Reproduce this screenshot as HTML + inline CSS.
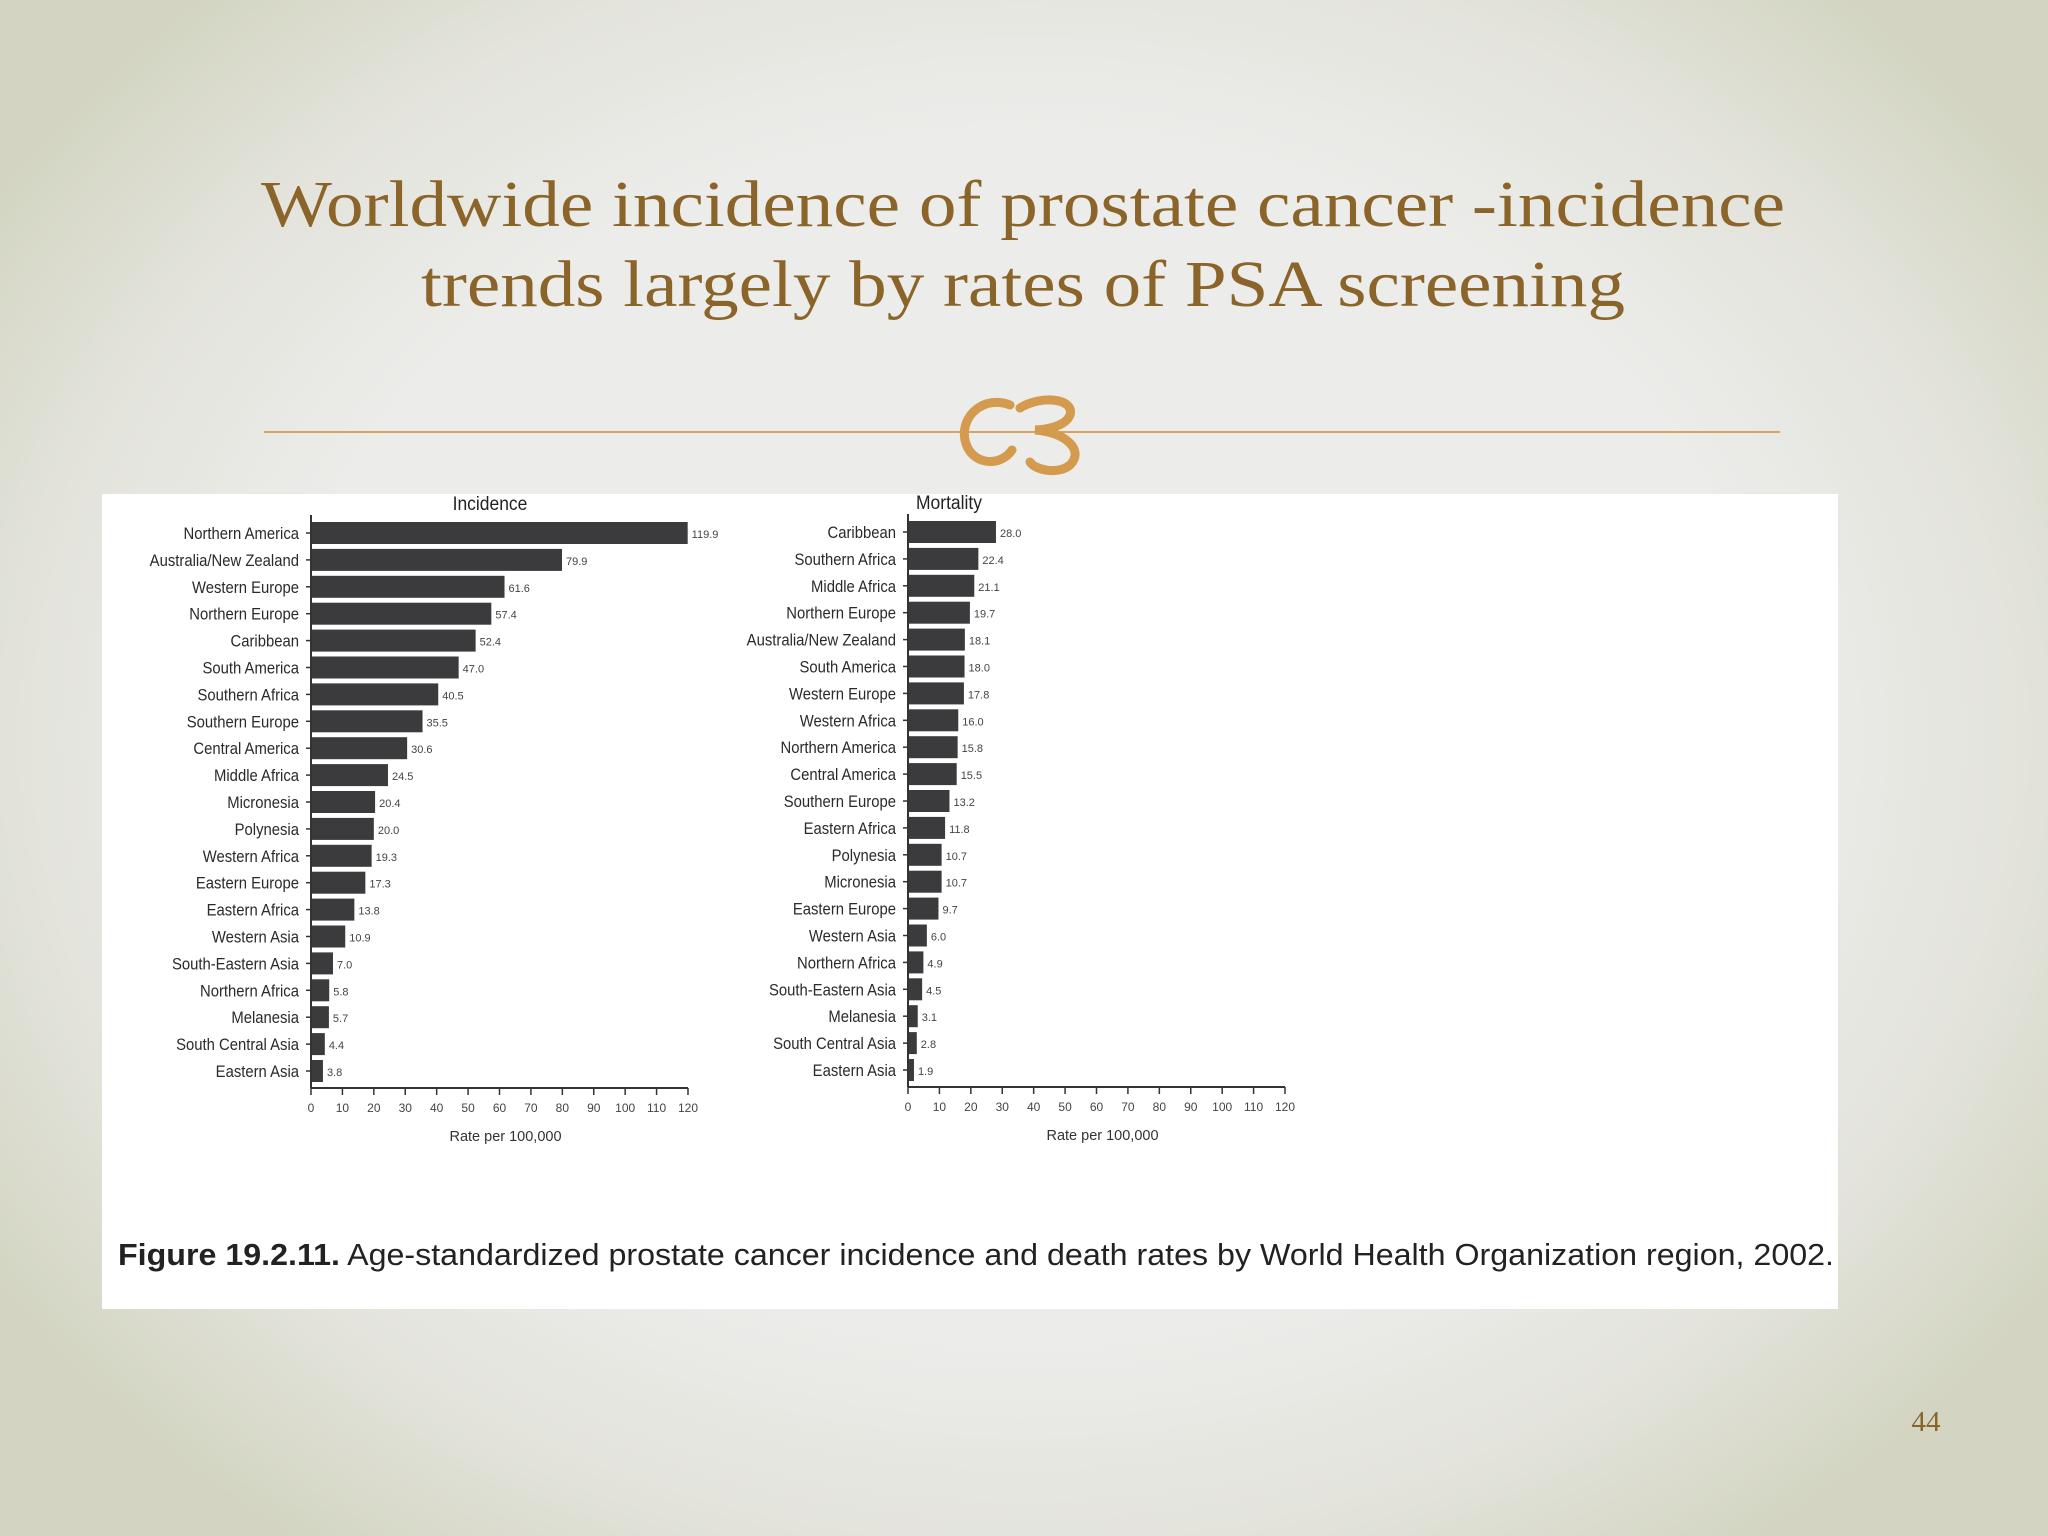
<!DOCTYPE html>
<html><head><meta charset="utf-8"><style>
html,body{margin:0;padding:0;width:2048px;height:1536px;overflow:hidden}
body{background:radial-gradient(ellipse 60% 65% at 50% 48%,#ececea 60%,#e4e4dd 80%,#d3d5c2 100%)}
svg{position:absolute;left:0;top:0}
</style></head><body>
<svg id="s" width="2048" height="1536" viewBox="0 0 2048 1536">
<text x="1023" y="226" text-anchor="middle" font-family="Liberation Serif, serif" font-size="66" fill="#8a6428" textLength="1524" lengthAdjust="spacingAndGlyphs">Worldwide incidence of prostate cancer -incidence</text>
<text x="1023" y="306" text-anchor="middle" font-family="Liberation Serif, serif" font-size="66" fill="#8a6428" textLength="1204" lengthAdjust="spacingAndGlyphs">trends largely by rates of PSA screening</text>
<line x1="264" y1="432" x2="1780" y2="432" stroke="#d9a55a" stroke-width="2"/>
<g fill="none" stroke="#d49a4e" stroke-width="9" stroke-linecap="round">
<path d="M1010 405 C985 395 960 415 965 440 C970 465 1000 468 1012 450"/>
<path d="M1020 408 C1040 395 1075 398 1070 415 C1065 428 1040 430 1035 430 C1065 432 1085 450 1070 465 C1058 475 1035 470 1030 462"/>
</g>
<rect x="102" y="494" width="1736" height="815" fill="#ffffff"/>
<text x="118" y="1265" font-family="Liberation Sans, sans-serif" font-size="31" fill="#222" textLength="1716" lengthAdjust="spacingAndGlyphs"><tspan font-weight="bold">Figure 19.2.11.</tspan> Age-standardized prostate cancer incidence and death rates by World Health Organization region, 2002.</text>
<text x="1926" y="1431" text-anchor="middle" font-family="Liberation Serif, serif" font-size="29" fill="#8a6428">44</text>
<g id="charts"></g>
</svg>
<script>
const incCategories=["Northern America","Australia/New Zealand","Western Europe","Northern Europe","Caribbean","South America","Southern Africa","Southern Europe","Central America","Middle Africa","Micronesia","Polynesia","Western Africa","Eastern Europe","Eastern Africa","Western Asia","South-Eastern Asia","Northern Africa","Melanesia","South Central Asia","Eastern Asia"];
const incValues=[119.9,79.9,61.6,57.4,52.4,47.0,40.5,35.5,30.6,24.5,20.4,20.0,19.3,17.3,13.8,10.9,7.0,5.8,5.7,4.4,3.8];
const morCategories=["Caribbean","Southern Africa","Middle Africa","Northern Europe","Australia/New Zealand","South America","Western Europe","Western Africa","Northern America","Central America","Southern Europe","Eastern Africa","Polynesia","Micronesia","Eastern Europe","Western Asia","Northern Africa","South-Eastern Asia","Melanesia","South Central Asia","Eastern Asia"];
const morValues=[28.0,22.4,21.1,19.7,18.1,18.0,17.8,16.0,15.8,15.5,13.2,11.8,10.7,10.7,9.7,6.0,4.9,4.5,3.1,2.8,1.9];
const xTicks=[0,10,20,30,40,50,60,70,80,90,100,110,120];
const NS="http://www.w3.org/2000/svg";
const root=document.getElementById('charts');
function el(tag,attrs,parent){const e=document.createElementNS(NS,tag);for(const k in attrs)e.setAttribute(k,attrs[k]);(parent||root).appendChild(e);return e;}
function drawChart(name,title,titleX,cats,vals,x0,x1,y0,pitch,axisY){
  const g=el('g',{});
  
  
  const xs=v=>x0+(x1-x0)*v/120;
  const ys=i=>y0+i*pitch;
  const t=el('text',{x:titleX,y:y0-23,'text-anchor':'middle','font-family':'Liberation Sans, sans-serif','font-size':19,fill:'#222',transform:'translate('+titleX+',0) scale(0.92,1) translate('+(-titleX)+',0)'},g);
  t.textContent=title;
  
  
  cats.forEach((c,i)=>{
    const y=ys(i);
    const r=el('rect',{x:xs(0),y:y-11,width:xs(vals[i])-xs(0),height:22,fill:'#3b3b3d'},g);
    
    
    const lx=x0-12;
    const lb=el('text',{x:lx,y:y+6,'text-anchor':'end','font-family':'Liberation Sans, sans-serif','font-size':16.5,fill:'#2a2a2a',transform:'translate('+lx+',0) scale(0.9,1) translate('+(-lx)+',0)'},g);
    lb.textContent=c;
    
    
    el('line',{x1:x0-5,y1:y,x2:x0,y2:y,stroke:'#333','stroke-width':1.5},g);
    const vl=el('text',{x:xs(vals[i])+4,y:y+5,'font-family':'Liberation Sans, sans-serif','font-size':11,fill:'#444'},g);
    vl.textContent=vals[i].toFixed(1);
    
    
  });
  el('line',{x1:x0,y1:y0-18,x2:x0,y2:axisY,stroke:'#333','stroke-width':2},g);
  el('line',{x1:x0,y1:axisY,x2:x1,y2:axisY,stroke:'#333','stroke-width':2},g);
  xTicks.forEach(v=>{
    el('line',{x1:xs(v),y1:axisY,x2:xs(v),y2:axisY+7,stroke:'#333','stroke-width':1.5},g);
    const tl=el('text',{x:xs(v),y:axisY+24,'text-anchor':'middle','font-family':'Liberation Sans, sans-serif','font-size':12,fill:'#444'},g);
    tl.textContent=v;
    
    
  });
  const xl=el('text',{x:(x0+x1)/2+6,y:axisY+53,'text-anchor':'middle','font-family':'Liberation Sans, sans-serif','font-size':14.5,fill:'#333'},g);
  xl.textContent='Rate per 100,000';
  
  
}
drawChart('incidence','Incidence',490,incCategories,incValues,311,688,533,26.9,1088);
drawChart('mortality','Mortality',949,morCategories,morValues,908,1285,532,26.9,1087);
</script>
</body></html>
